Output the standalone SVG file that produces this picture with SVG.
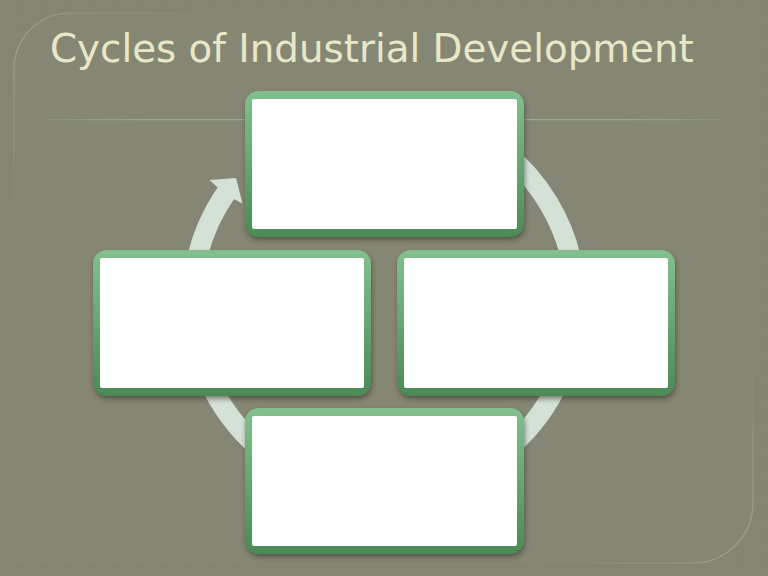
<svg xmlns="http://www.w3.org/2000/svg" width="768" height="576" viewBox="0 0 768 576">
  <defs>
    <pattern id="tex" width="3" height="3" patternUnits="userSpaceOnUse">
      <rect width="3" height="3" fill="#858574"/>
      <rect width="1" height="3" fill="#8a8a79" opacity="0.6"/>
      <rect width="3" height="1" fill="#80806f" opacity="0.5"/>
    </pattern>
    <linearGradient id="frame" x1="0" y1="0" x2="0" y2="1">
      <stop offset="0" stop-color="#82c08e"/>
      <stop offset="1" stop-color="#4c8a55"/>
    </linearGradient>
    <linearGradient id="rule" x1="0" y1="0" x2="1" y2="0">
      <stop offset="0" stop-color="#8fb088" stop-opacity="0.3"/>
      <stop offset="0.15" stop-color="#8fb088"/>
      <stop offset="0.85" stop-color="#8fb088"/>
      <stop offset="1" stop-color="#8fb088" stop-opacity="0.3"/>
    </linearGradient>
    <radialGradient id="fadeTL" gradientUnits="userSpaceOnUse" cx="35" cy="35" r="180">
      <stop offset="0" stop-color="#a2a28f" stop-opacity="1"/>
      <stop offset="1" stop-color="#a2a28f" stop-opacity="0"/>
    </radialGradient>
    <radialGradient id="fadeBR" gradientUnits="userSpaceOnUse" cx="732" cy="542" r="180">
      <stop offset="0" stop-color="#a2a28f" stop-opacity="1"/>
      <stop offset="1" stop-color="#a2a28f" stop-opacity="0"/>
    </radialGradient>
    <filter id="shadow" x="-10%" y="-10%" width="125%" height="130%">
      <feDropShadow dx="1" dy="3" stdDeviation="2.5" flood-color="#2f3326" flood-opacity="0.55"/>
    </filter>
    <style>
      .title { font-family: "DejaVu Sans", sans-serif; font-size: 38.8px; fill: #e8e8c9; }
      .frame { fill: url(#frame); filter: url(#shadow); }
      .inner { fill: #ffffff; }
      .cyc { fill: none; stroke: #d4e1d7; stroke-width: 20; }
      .head { fill: #d4e1d7; }
    </style>
  </defs>

  <rect width="768" height="576" fill="#848473"/>
  <rect width="768" height="576" fill="url(#tex)" opacity="0.6"/>
  <path d="M70,13 H753 V503 A60,60 0 0 1 693,563 H14 V69 A56,56 0 0 1 70,13 Z" fill="#868675"/>
  <path d="M14,200 V69 A56,56 0 0 1 70,13 H220" fill="none" stroke="url(#fadeTL)" stroke-width="1.2"/>
  <path d="M753,360 V503 A60,60 0 0 1 693,563 H540" fill="none" stroke="url(#fadeBR)" stroke-width="1.2"/>

  <text class="title" x="50" y="61.5">Cycles of Industrial Development</text>
  <rect x="48" y="119" width="672" height="1.2" fill="url(#rule)"/>

  <g id="connectors">
    <path class="cyc" d="M417.3,112.9 A192,192 0 1 1 226.7,191.9"/>
    <polygon class="head" points="209.5,180 236,178 242.5,203.5 226,195"/>
  </g>

  <g id="node-top">
    <rect class="frame" x="245" y="91" width="279" height="146" rx="14"/>
    <rect class="inner" x="252" y="99" width="265" height="130" rx="2"/>
  </g>
  <g id="node-left">
    <rect class="frame" x="93" y="250" width="278" height="146" rx="14"/>
    <rect class="inner" x="100" y="258" width="264" height="130" rx="2"/>
  </g>
  <g id="node-right">
    <rect class="frame" x="397" y="250" width="278" height="146" rx="14"/>
    <rect class="inner" x="404" y="258" width="264" height="130" rx="2"/>
  </g>
  <g id="node-bottom">
    <rect class="frame" x="245" y="408" width="279" height="146" rx="14"/>
    <rect class="inner" x="252" y="416" width="265" height="130" rx="2"/>
  </g>
</svg>
